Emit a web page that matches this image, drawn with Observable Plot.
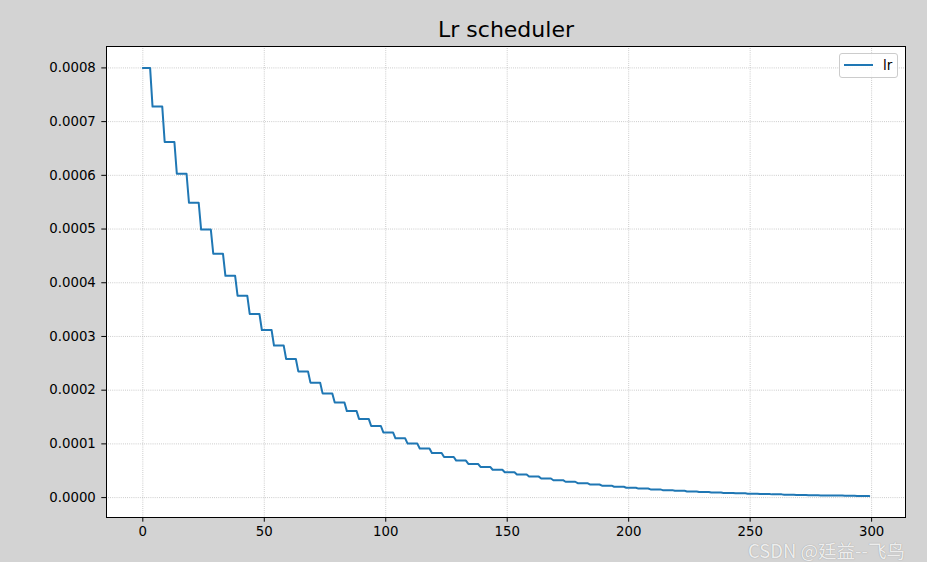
<!DOCTYPE html>
<html><head><meta charset="utf-8">
<script src="https://cdn.jsdelivr.net/npm/d3@7"></script>
<script src="https://cdn.jsdelivr.net/npm/@observablehq/plot@0.6"></script>
<style>
html,body{margin:0;padding:0;}
body{background:#d3d3d3;width:927px;height:562px;overflow:hidden;position:relative;font-family:"DejaVu Sans",sans-serif;}
#chart{position:absolute;left:0;top:0;}
#title{position:absolute;left:107px;width:798px;top:19px;line-height:22px;font-size:22px;text-align:center;color:#000;}
#legend{position:absolute;left:839px;top:53px;width:57px;height:23px;border:1px solid #cccccc;border-radius:3px;background:rgba(255,255,255,0.8);}
#legend .sw{position:absolute;left:4px;top:10px;width:29px;height:2px;background:#1f77b4;}
#legend .lb{position:absolute;left:43px;top:3px;font-size:13.5px;line-height:16px;color:#000;}
#wm{position:absolute;left:748px;top:541px;font-size:18.5px;line-height:18px;height:18px;color:rgba(250,250,250,0.9);text-shadow:0 0 1px #8c8c8c;font-family:"Noto Sans CJK SC","DejaVu Sans",sans-serif;white-space:nowrap;}
</style></head>
<body>
<div id="chart"></div>
<div id="title">Lr scheduler</div>
<div id="legend"><div class="sw"></div><div class="lb">lr</div></div>
<div id="wm">CSDN @廷益--飞鸟</div>
<script>
const seriesName = "lr";
const nEpochs = 300;
const stepSize = 5;
// learning-rate level of each step
const levels = [
  0.0008, 0.000728, 0.000662, 0.000603, 0.000549, 0.000499, 0.000454, 0.000413, 0.000376, 0.000342,
  0.000312, 0.000283, 0.000258, 0.000235, 0.000214, 0.000194, 0.000177, 0.000161, 0.0001465, 0.0001333,
  0.0001213, 0.0001104, 0.0001005, 0.0000914, 0.0000832, 0.0000757, 0.0000689, 0.0000627, 0.0000571, 0.0000519,
  0.0000473, 0.0000430, 0.0000391, 0.0000356, 0.0000324, 0.0000295, 0.0000269, 0.0000244, 0.0000222, 0.0000202,
  0.0000184, 0.0000168, 0.0000153, 0.0000139, 0.0000126, 0.0000115, 0.0000105, 0.0000095, 0.0000087, 0.0000079,
  0.0000072, 0.0000065, 0.0000060, 0.0000054, 0.0000049, 0.0000045, 0.0000041, 0.0000037, 0.0000034, 0.0000031,
  0.0000028
];
const xTicks = [0, 50, 100, 150, 200, 250, 300];
const yTicks = [0, 0.0001, 0.0002, 0.0003, 0.0004, 0.0005, 0.0006, 0.0007, 0.0008];

const data = d3.range(nEpochs).map(e => ({epoch: e, lr: levels[Math.floor((e + 1) / stepSize)]}));

const xmin = 0, xmax = nEpochs - 1;
const ymin = d3.min(data, d => d.lr), ymax = d3.max(data, d => d.lr);
const xm = (xmax - xmin) * 0.05, ym = (ymax - ymin) * 0.05;

const grid = {stroke: "#b0b0b0", strokeOpacity: 1, strokeWidth: 0.8, strokeDasharray: "0.8,1.32"};

const chart = Plot.plot({
  width: 927,
  height: 562,
  marginLeft: 106,
  marginRight: 22,
  marginTop: 46,
  marginBottom: 45,
  style: {background: "transparent", fontFamily: "DejaVu Sans, sans-serif", fontSize: "13.3px", color: "#000"},
  x: {domain: [xmin - xm, xmax + xm]},
  y: {domain: [ymin - ym, ymax + ym]},
  marks: [
    Plot.frame({fill: "white", stroke: null}),
    Plot.gridX(xTicks, grid),
    Plot.gridY(yTicks, grid),
    Plot.line(data, {x: "epoch", y: "lr", stroke: "#1f77b4", strokeWidth: 2}),
    Plot.frame({stroke: "black", strokeWidth: 1}),
    Plot.axisX(xTicks, {tickSize: 4.7, tickPadding: 4, label: null, stroke: "black", fill: "black", tickFormat: d3.format("d")}),
    Plot.axisY(yTicks, {tickSize: 4.7, tickPadding: 6, label: null, stroke: "black", fill: "black", tickFormat: d3.format(".4f")})
  ]
});
document.getElementById("chart").appendChild(chart);
</script>
</body></html>
